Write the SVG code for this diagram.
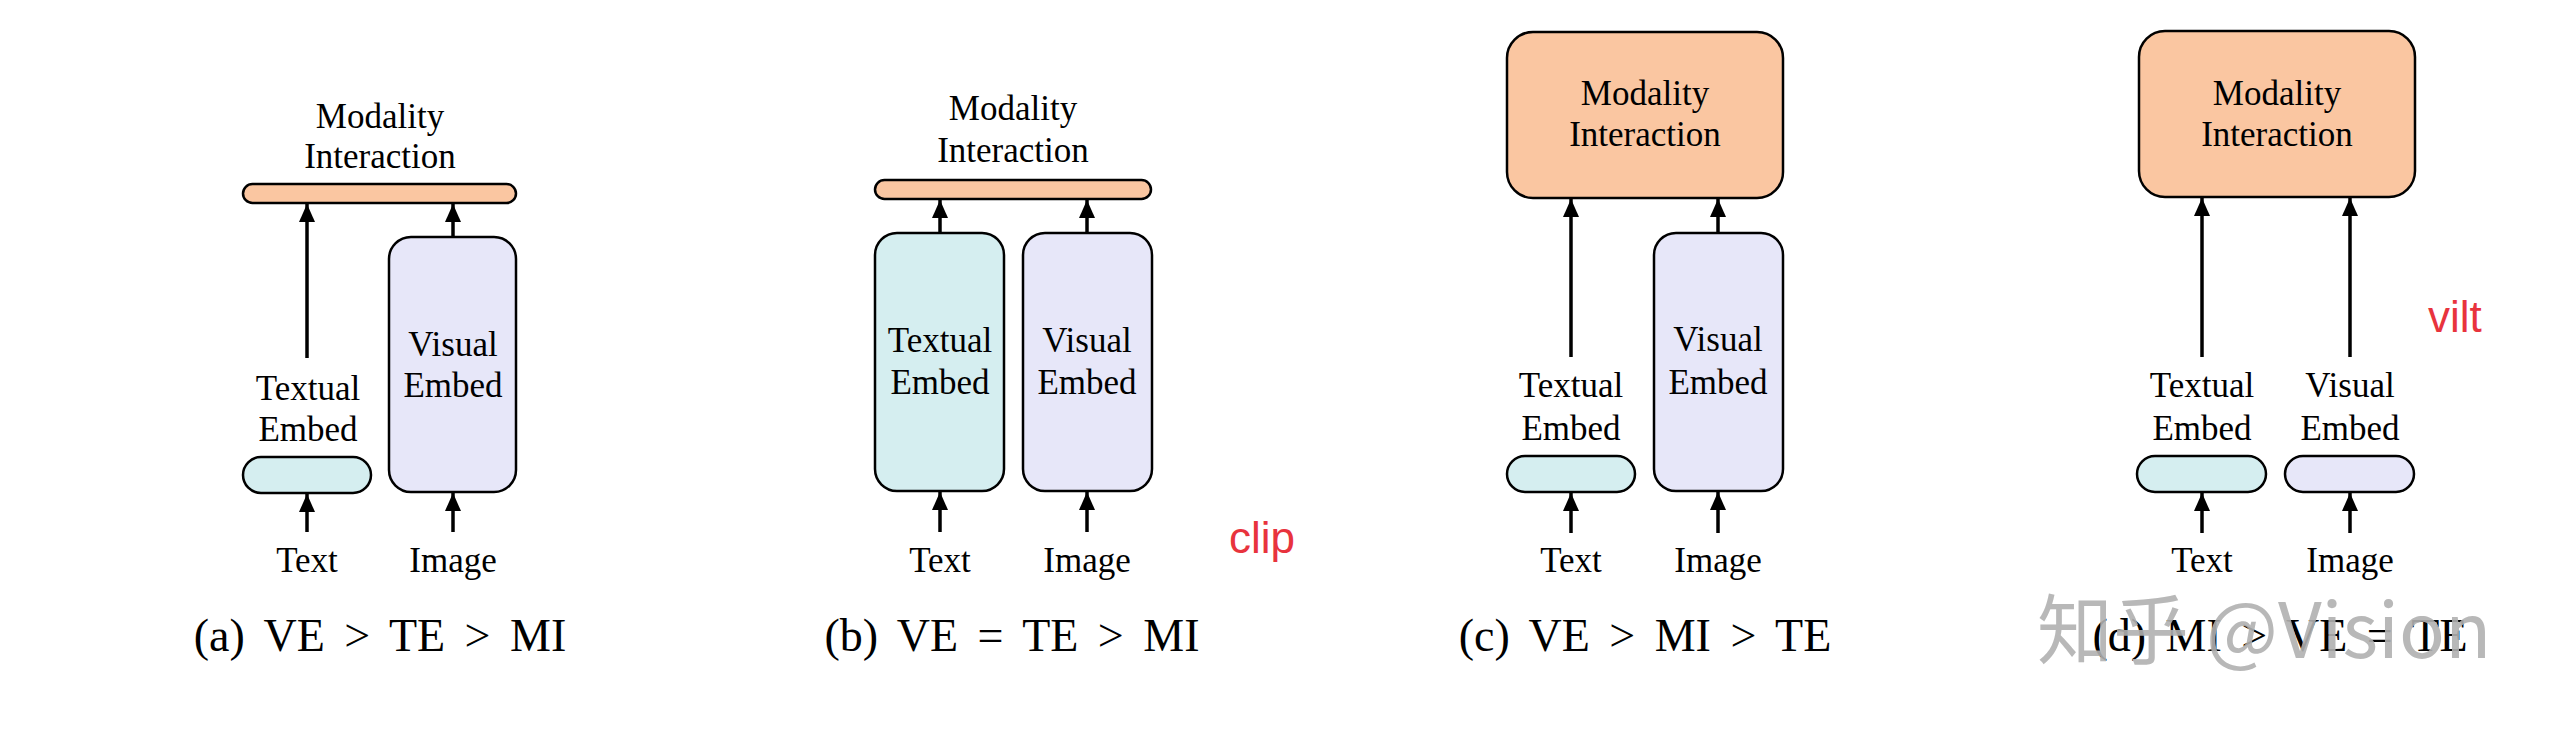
<svg xmlns="http://www.w3.org/2000/svg" width="2560" height="734" viewBox="0 0 2560 734">
<style>
.t{font-family:"Liberation Serif","Times New Roman",serif;font-size:35px;fill:#000;text-anchor:middle}
.cap{font-family:"Liberation Serif","Times New Roman",serif;font-size:46px;fill:#000;text-anchor:middle;word-spacing:8px}
.red{font-family:"Liberation Sans",Arial,sans-serif;font-size:44px;fill:#e8333d}
.mi{fill:#FAC6A1;stroke:#000;stroke-width:2.5}
.te{fill:#D5EEF0;stroke:#000;stroke-width:2.5}
.ve{fill:#E7E7F9;stroke:#000;stroke-width:2.5}
.ar{stroke:#000;stroke-width:3.5;fill:none;marker-end:url(#ah)}
.wm{font-family:"Noto Sans CJK SC","Liberation Sans",sans-serif;font-size:76px;fill:#b0b0b0;fill-opacity:0.9}
</style>
<defs>
<marker id="ah" markerUnits="userSpaceOnUse" markerWidth="20" markerHeight="20" viewBox="0 0 20 20" refX="18" refY="10" orient="auto">
<path d="M0,2 L18,10 L0,18 Z" fill="#000"/>
</marker>
</defs>
<rect width="2560" height="734" fill="#fff"/>

<g id="connectors">
<line class="ar" x1="307" y1="358" x2="307" y2="204"/>
<line class="ar" x1="453" y1="237" x2="453" y2="204"/>
<line class="ar" x1="307" y1="532" x2="307" y2="494"/>
<line class="ar" x1="453" y1="532" x2="453" y2="493"/>

<line class="ar" x1="940" y1="233" x2="940" y2="200"/>
<line class="ar" x1="1087" y1="233" x2="1087" y2="200"/>
<line class="ar" x1="940" y1="532" x2="940" y2="492"/>
<line class="ar" x1="1087" y1="532" x2="1087" y2="492"/>

<line class="ar" x1="1571" y1="357" x2="1571" y2="199"/>
<line class="ar" x1="1718" y1="233" x2="1718" y2="199"/>
<line class="ar" x1="1571" y1="533" x2="1571" y2="493"/>
<line class="ar" x1="1718" y1="533" x2="1718" y2="492"/>

<line class="ar" x1="2202" y1="357" x2="2202" y2="198"/>
<line class="ar" x1="2350" y1="357" x2="2350" y2="198"/>
<line class="ar" x1="2202" y1="533" x2="2202" y2="493"/>
<line class="ar" x1="2350" y1="533" x2="2350" y2="493"/>
</g>

<!-- Panel a -->
<g id="a-mi"><rect class="mi" x="243" y="184" width="273" height="19" rx="9.5"/>
<text class="t" x="380" y="128">Modality</text><text class="t" x="380" y="168">Interaction</text></g>
<g id="a-te"><rect class="te" x="243" y="457" width="128" height="36" rx="18"/>
<text class="t" x="308" y="400">Textual</text><text class="t" x="308" y="441">Embed</text></g>
<g id="a-ve"><rect class="ve" x="389" y="237" width="127" height="255" rx="22"/>
<text class="t" x="453" y="356">Visual</text><text class="t" x="453" y="397">Embed</text></g>
<g id="a-in"><text class="t" x="307" y="572">Text</text><text class="t" x="453" y="572">Image</text></g>
<text class="cap" x="380" y="651">(a) VE &gt; TE &gt; MI</text>

<!-- Panel b -->
<g id="b-mi"><rect class="mi" x="875" y="180" width="276" height="19" rx="9.5"/>
<text class="t" x="1013" y="120">Modality</text><text class="t" x="1013" y="162">Interaction</text></g>
<g id="b-te"><rect class="te" x="875" y="233" width="129" height="258" rx="22"/>
<text class="t" x="940" y="352">Textual</text><text class="t" x="940" y="394">Embed</text></g>
<g id="b-ve"><rect class="ve" x="1023" y="233" width="129" height="258" rx="22"/>
<text class="t" x="1087" y="352">Visual</text><text class="t" x="1087" y="394">Embed</text></g>
<g id="b-in"><text class="t" x="940" y="572">Text</text><text class="t" x="1087" y="572">Image</text></g>
<text class="cap" x="1012" y="651">(b) VE = TE &gt; MI</text>
<text class="red" x="1229" y="553">clip</text>

<!-- Panel c -->
<g id="c-mi"><rect class="mi" x="1507" y="32" width="276" height="166" rx="26"/>
<text class="t" x="1645" y="105">Modality</text><text class="t" x="1645" y="146">Interaction</text></g>
<g id="c-te"><rect class="te" x="1507" y="456" width="128" height="36" rx="18"/>
<text class="t" x="1571" y="397">Textual</text><text class="t" x="1571" y="440">Embed</text></g>
<g id="c-ve"><rect class="ve" x="1654" y="233" width="129" height="258" rx="22"/>
<text class="t" x="1718" y="351">Visual</text><text class="t" x="1718" y="394">Embed</text></g>
<g id="c-in"><text class="t" x="1571" y="572">Text</text><text class="t" x="1718" y="572">Image</text></g>
<text class="cap" x="1645" y="651">(c) VE &gt; MI &gt; TE</text>

<!-- Panel d -->
<g id="d-mi"><rect class="mi" x="2139" y="31" width="276" height="166" rx="26"/>
<text class="t" x="2277" y="105">Modality</text><text class="t" x="2277" y="146">Interaction</text></g>
<g id="d-te"><rect class="te" x="2137" y="456" width="129" height="36" rx="18"/>
<text class="t" x="2202" y="397">Textual</text><text class="t" x="2202" y="440">Embed</text></g>
<g id="d-ve"><rect class="ve" x="2285" y="456" width="129" height="36" rx="18"/>
<text class="t" x="2350" y="397">Visual</text><text class="t" x="2350" y="440">Embed</text></g>
<g id="d-in"><text class="t" x="2202" y="572">Text</text><text class="t" x="2350" y="572">Image</text></g>
<text class="cap" x="2280" y="651">(d) MI &gt; VE = TE</text>
<text class="red" x="2428" y="332">vilt</text>
<text class="wm" x="2037" y="658">知乎 @Vision</text>
</svg>
